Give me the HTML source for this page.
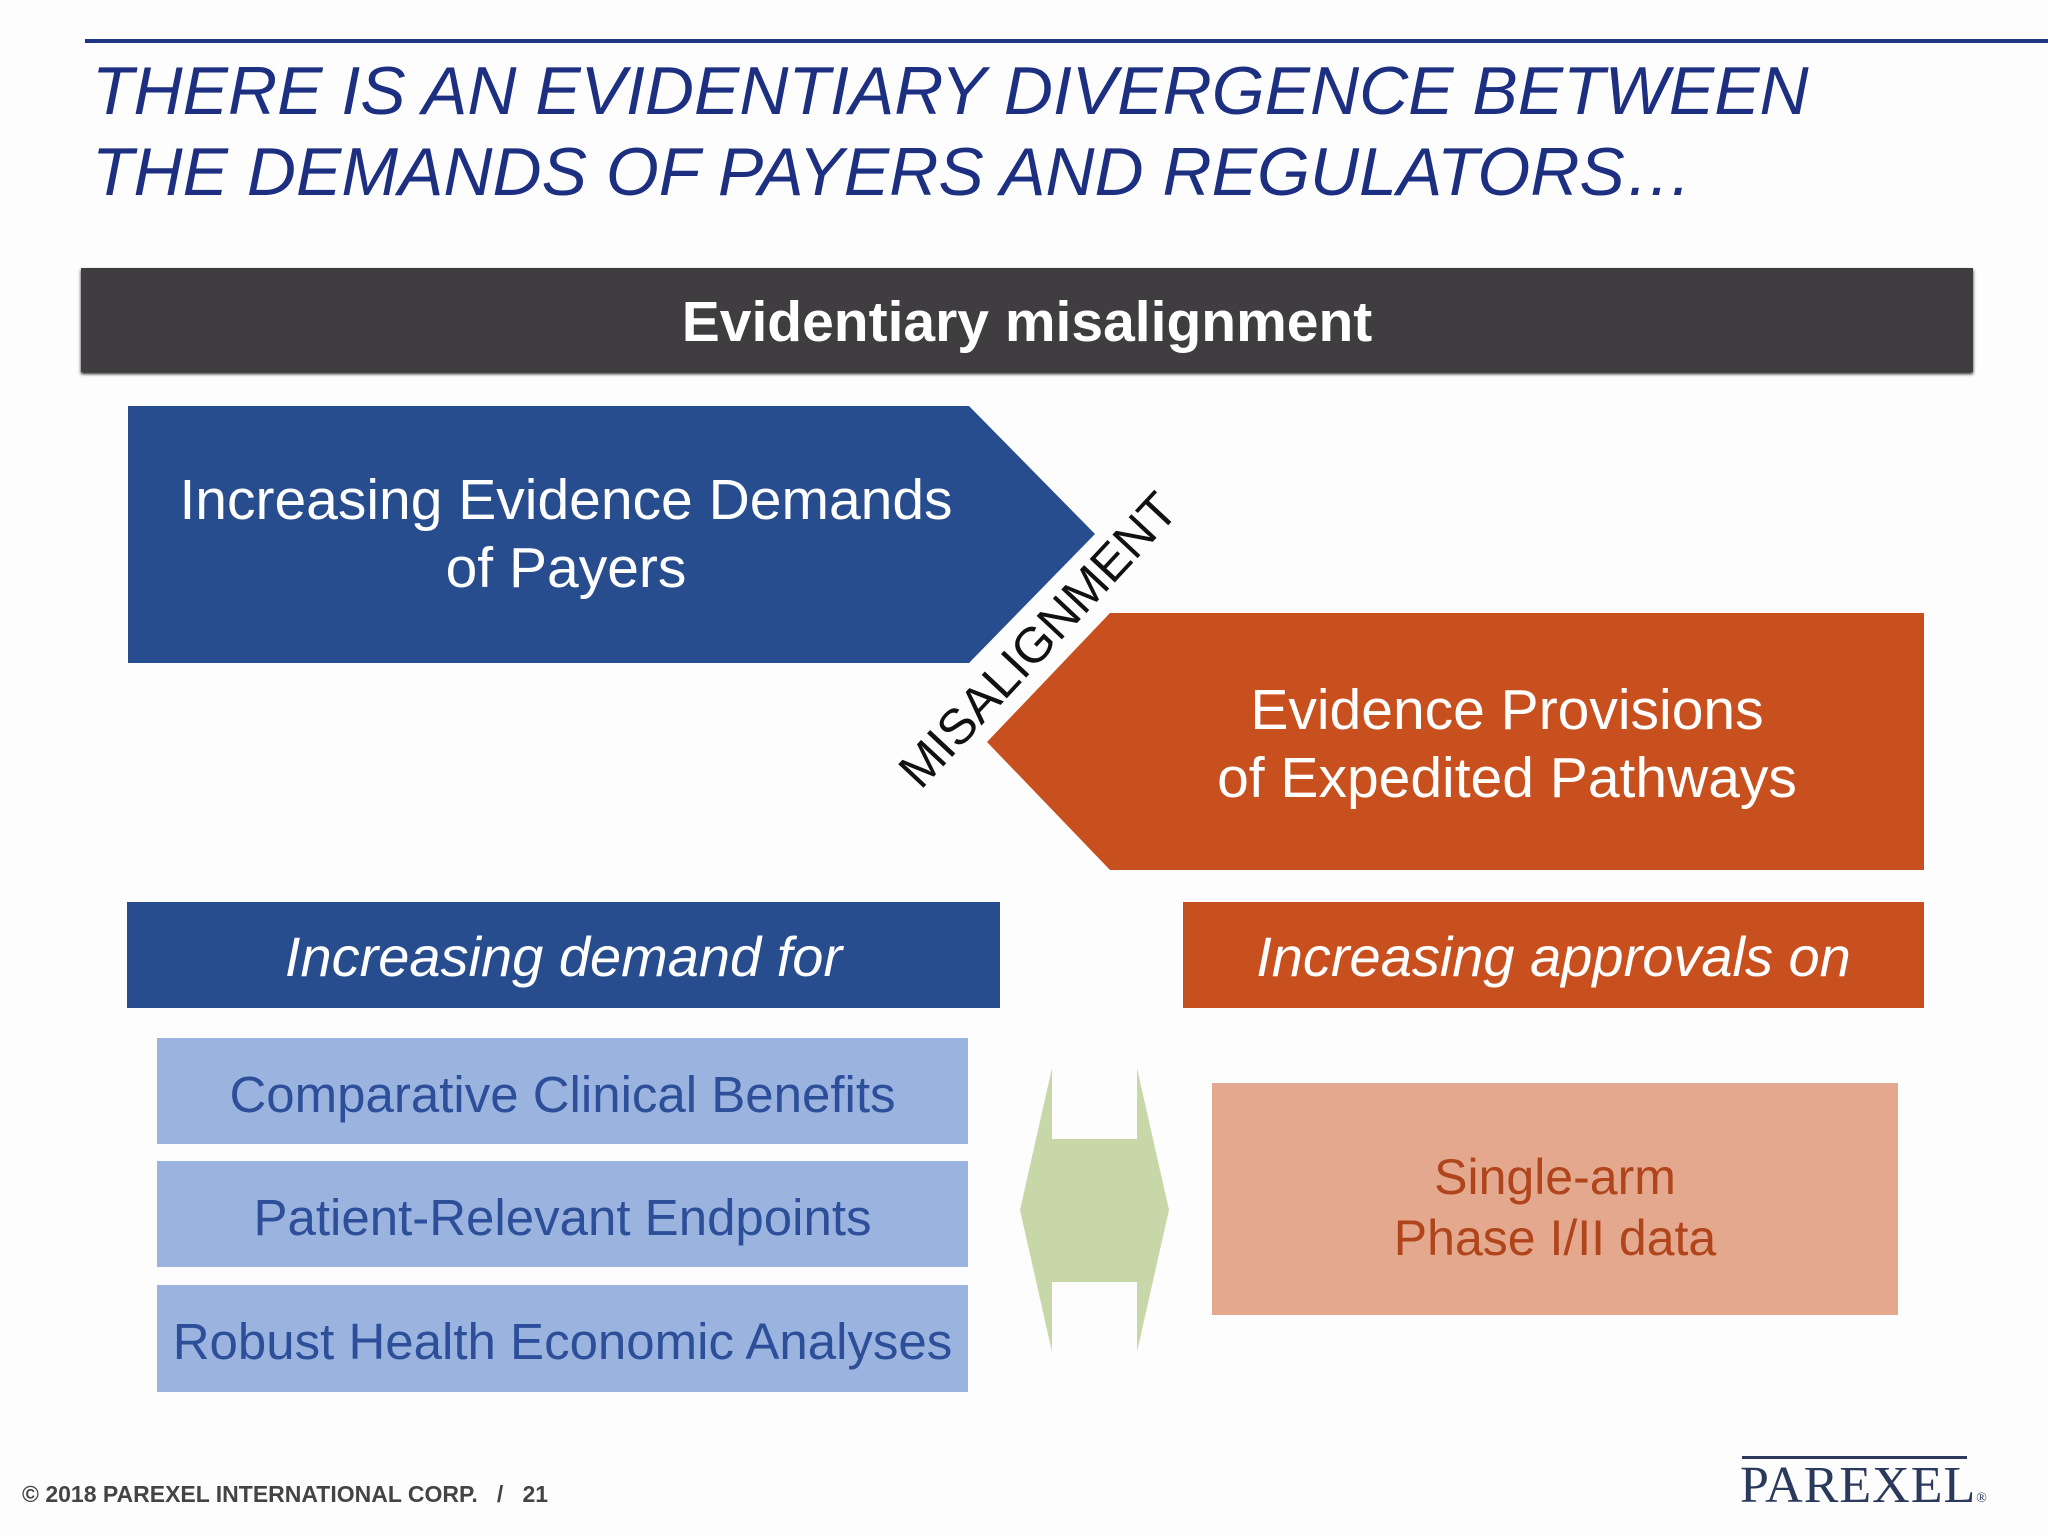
<!DOCTYPE html>
<html><head><meta charset="utf-8"><style>
body{margin:0;width:2048px;height:1536px;background:#fdfdfd;position:relative;overflow:hidden;font-family:"Liberation Sans",sans-serif}
.a{position:absolute}
.c{text-align:center}
</style></head><body>
<div class="a" style="left:85px;top:39px;width:1963px;height:4px;background:#1f3586"></div>
<div class="a" style="left:92px;top:51px;font-size:68px;font-style:italic;color:#1c2f80;line-height:81px;white-space:nowrap">THERE IS AN EVIDENTIARY DIVERGENCE BETWEEN<br>THE DEMANDS OF PAYERS AND REGULATORS…</div>
<div class="a c" style="left:81px;top:268px;width:1892px;height:104px;background:#3f3d40;color:#fff;font-weight:bold;font-size:57px;line-height:108px;box-shadow:0 2px 3px #222">Evidentiary misalignment</div>
<svg class="a" style="left:0;top:0" width="2048" height="1536">
<polygon points="128,406 969,406 1095,534 969,663 128,663" fill="#284d8f"/>
<polygon points="1110,613 1924,613 1924,870 1110,870 987,742" fill="#c8501e"/>
<polygon points="1020,1210 1052,1068 1052,1139 1137,1139 1137,1068 1169,1210 1137,1352 1137,1282 1052,1282 1052,1352" fill="#c8d7a8"/>
</svg>
<div class="a c" style="left:128px;top:466px;width:876px;font-size:57px;line-height:68px;color:#fff">Increasing Evidence Demands<br>of Payers</div>
<div class="a c" style="left:1110px;top:676px;width:794px;font-size:57px;line-height:68px;color:#fff">Evidence Provisions<br>of Expedited Pathways</div>
<div class="a" style="left:1038px;top:640px;transform:translate(-50%,-50%) rotate(-47deg);font-size:50px;color:#111;white-space:nowrap">MISALIGNMENT</div>
<div class="a c" style="left:127px;top:902px;width:873px;height:106px;background:#284d8f;color:#fff;font-style:italic;font-size:56px;line-height:110px">Increasing demand for</div>
<div class="a c" style="left:1183px;top:902px;width:741px;height:106px;background:#c8501e;color:#fff;font-style:italic;font-size:56px;line-height:110px">Increasing approvals on</div>
<div class="a c" style="left:157px;top:1038px;width:811px;height:106px;background:#9bb3df;color:#2d4f9a;font-size:51px;line-height:114px">Comparative Clinical Benefits</div>
<div class="a c" style="left:157px;top:1161px;width:811px;height:106px;background:#9bb3df;color:#2d4f9a;font-size:51px;line-height:114px">Patient-Relevant Endpoints</div>
<div class="a c" style="left:157px;top:1285px;width:811px;height:107px;background:#9bb3df;color:#2d4f9a;font-size:51px;line-height:114px;white-space:nowrap">Robust Health Economic Analyses</div>
<div class="a c" style="left:1212px;top:1083px;width:686px;height:232px;background:#e4a88e;color:#b0441a;font-size:50px;line-height:61px;box-sizing:border-box;padding-top:64px">Single-arm<br>Phase I/II data</div>
<div class="a" style="left:22px;top:1481px;font-size:23px;font-weight:bold;color:#444;white-space:pre">© 2018 PAREXEL INTERNATIONAL CORP.   /   21</div>
<div class="a" style="left:1742px;top:1456px;width:225px;height:3px;background:#2b3a5c"></div>
<div class="a" style="left:1740px;top:1456px;font-family:'Liberation Serif',serif;font-size:52px;color:#2b3a5c;letter-spacing:1px">PAREXEL<span style="font-size:14px">®</span></div>
</body></html>
